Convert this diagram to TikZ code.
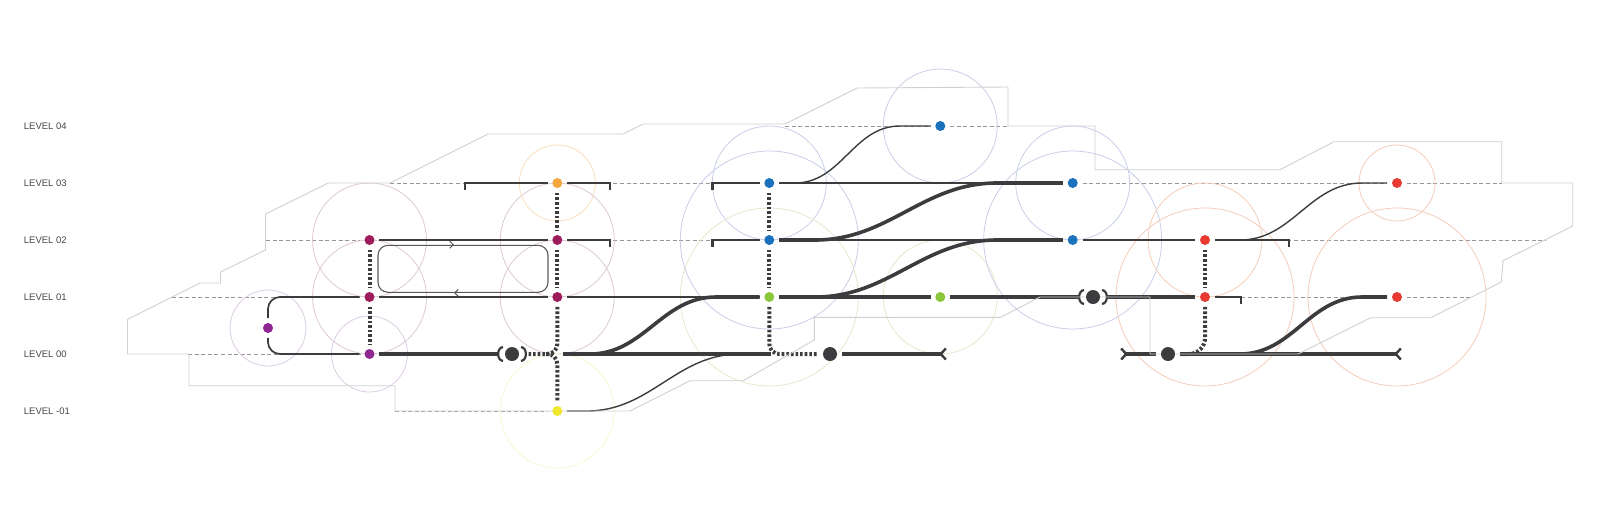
\documentclass[tikz,border=0pt]{standalone}
\usepackage{fontspec}
\setmainfont{Liberation Sans}
\usetikzlibrary{arrows.meta, positioning, backgrounds}
\definecolor{lineink}{RGB}{60, 60, 62}
\definecolor{mapgrey}{RGB}{208, 208, 210}
\definecolor{dashgrey}{RGB}{150, 150, 152}
\definecolor{labelgrey}{RGB}{70, 70, 70}
\definecolor{stamagenta}{RGB}{158, 27, 92}
\definecolor{stapurple}{RGB}{142, 39, 143}
\definecolor{staorange}{RGB}{245, 166, 60}
\definecolor{stayellow}{RGB}{240, 230, 45}
\definecolor{stablue}{RGB}{26, 113, 188}
\definecolor{stagreen}{RGB}{140, 198, 63}
\definecolor{stared}{RGB}{232, 58, 48}
\definecolor{ringmagenta}{RGB}{222, 200, 210}
\definecolor{ringpurple}{RGB}{220, 203, 226}
\definecolor{ringorange}{RGB}{248, 222, 188}
\definecolor{ringyellow}{RGB}{248, 248, 210}
\definecolor{ringblue}{RGB}{200, 206, 232}
\definecolor{ringgreen}{RGB}{228, 232, 204}
\definecolor{ringred}{RGB}{244, 204, 184}
\tikzset{
  station/.style={circle, fill=#1, minimum size=5pt, inner sep=0pt, outer sep=2.4pt},
  terminal/.style={circle, fill=lineink, minimum size=7pt, inner sep=0pt, outer sep=#1},
  levellabel/.style={anchor=west, text=labelgrey, font=\fontsize{4.75}{6}\selectfont, inner sep=0pt},
  ring/.style={draw=#1, line width=0.4pt},
  levelline/.style={draw=dashgrey, line width=0.35pt, dash pattern=on 2pt off 1.3pt},
  medline/.style={draw=lineink, line width=0.85pt},
  thickline/.style={draw=lineink, line width=1.8pt},
  thinline/.style={draw=lineink, line width=0.7pt},
  tickline/.style={draw=lineink, line width=1.4pt},
  dotline/.style={draw=lineink, line width=2pt, dash pattern=on 1.3pt off 1pt},
  scurve/.style={out=0, in=180},
  paren/.style={-{Arc Barb[reversed, length=3pt, width=8pt, line width=1.1pt]}},
  fork/.style={-{Straight Barb[reversed, length=2.5pt, width=5.5pt, line width=1.2pt]}}
}
\begin{document}
\begin{tikzpicture}[x=0.5pt, y=-0.5pt, >=Stealth]
  \useasboundingbox (0,0) rectangle (1600,509);
  \node[levellabel] (lab04) at (23.5,126) {LEVEL 04};
  \node[levellabel] (lab03) at (23.5,183) {LEVEL 03};
  \node[levellabel] (lab02) at (23.5,240) {LEVEL 02};
  \node[levellabel] (lab01) at (23.5,297) {LEVEL 01};
  \node[levellabel] (lab00) at (23.5,354) {LEVEL 00};
  \node[levellabel] (labm1) at (23.5,411) {LEVEL -01};

  \node[station=stapurple] (hub) at (268,328) {};
  \node[station=stapurple] (pu00) at (369.5,354) {};
  \node[station=stamagenta] (ma01) at (369.5,297) {};
  \node[station=stamagenta] (ma02) at (369.5,240) {};
  \node[station=stamagenta] (mb01) at (557.3,297) {};
  \node[station=stamagenta] (mb02) at (557.3,240) {};
  \node[station=staorange] (or03) at (557.3,183) {};
  \node[station=stayellow] (ye00) at (557.3,411) {};
  \node[station=stablue] (ba03) at (769.3,183) {};
  \node[station=stablue] (ba02) at (769.3,240) {};
  \node[station=stagreen] (ga01) at (769.3,297) {};
  \node[station=stablue] (bb04) at (940.3,126) {};
  \node[station=stagreen] (gb01) at (940.3,297) {};
  \node[station=stablue] (bc03) at (1072.7,183) {};
  \node[station=stablue] (bc02) at (1072.7,240) {};
  \node[station=stared] (ra02) at (1205,240) {};
  \node[station=stared] (ra01) at (1205,297) {};
  \node[station=stared] (rb03) at (1397,183) {};
  \node[station=stared] (rb01) at (1397,297) {};
  \node[terminal=1pt] (ta) at (512,354) {};
  \node[terminal=2.5pt] (tb) at (830,354) {};
  \node[terminal=1pt] (tc) at (1093,297) {};
  \node[terminal=2.5pt] (td) at (1168,354) {};
  \node[draw=lineink!85, line width=0.55pt, rounded corners=5pt, minimum width=85pt, minimum height=23.5pt, inner sep=0pt] (loopbox) at (463,268.8) {};

  \coordinate (dl04a) at (785,126);
  \coordinate (dl04b) at (1008,126);
  \coordinate (dl03a) at (390,183);
  \coordinate (dl03b) at (1502,183);
  \coordinate (dl02a) at (266,240);
  \coordinate (dl02b) at (1545,240);
  \coordinate (dl01a) at (172,297);
  \coordinate (dl01b) at (1470,297);
  \coordinate (dl00a) at (188,354);
  \coordinate (dlm1a) at (395,411);
  \coordinate (tk03a) at (465,190);
  \coordinate (tk03b) at (610,190);
  \coordinate (tk03c) at (712.7,190);
  \coordinate (tk02a) at (610,247);
  \coordinate (tk02b) at (712.7,247);
  \coordinate (tk02c) at (1289,247);
  \coordinate (tk01a) at (1241,304);
  \coordinate (fk00a) at (947,354);
  \coordinate (fk00b) at (1120,354);
  \coordinate (fk00c) at (1402,354);
  \coordinate (jn00a) at (563,354);
  \coordinate (jn00b) at (771,354);
  \coordinate (jn00c) at (546,354);
  \coordinate (sa0) at (590,354);
  \coordinate (sa1) at (716,297);
  \coordinate (sb0) at (587,411);
  \coordinate (sb1) at (740,354);
  \coordinate (sc0) at (795,183);
  \coordinate (sc1) at (900,126);
  \coordinate (sd0) at (815,240);
  \coordinate (sd1) at (997,183);
  \coordinate (se0) at (815,297);
  \coordinate (se1) at (997,240);
  \coordinate (sf0) at (1240,240);
  \coordinate (sf1) at (1362,183);
  \coordinate (sg0) at (1240,354);
  \coordinate (sg1) at (1362,297);

  \begin{scope}[on background layer]
  \draw[levelline] (dl04a) -- (bb04);
  \draw[levelline] (bb04) -- (dl04b);
  \draw[levelline] (dl03a) -- (or03);
  \draw[levelline] (or03) -- (ba03);
  \draw[levelline] (bc03) -- (rb03);
  \draw[levelline] (rb03) -- (dl03b);
  \draw[levelline] (dl02a) -- (ma02);
  \draw[levelline] (mb02) -- (ba02);
  \draw[levelline] (ra02) -- (dl02b);
  \draw[levelline] (dl01a) -- (ma01);
  \draw[levelline] (ra01) -- (rb01);
  \draw[levelline] (rb01) -- (dl01b);
  \draw[levelline] (dl00a) -- (pu00);
  \draw[levelline] (dlm1a) -- (ye00);

  \draw[ring=ringpurple] (hub) circle (38);
  \draw[ring=ringpurple] (pu00) circle (38);
  \draw[ring=ringmagenta] (ma01) circle (57);
  \draw[ring=ringmagenta] (ma02) circle (57);
  \draw[ring=ringmagenta] (mb01) circle (57);
  \draw[ring=ringmagenta] (mb02) circle (57);
  \draw[ring=ringorange] (or03) circle (38);
  \draw[ring=ringyellow] (ye00) circle (57);
  \draw[ring=ringblue] (ba03) circle (57);
  \draw[ring=ringblue] (ba02) circle (89);
  \draw[ring=ringgreen] (ga01) circle (89);
  \draw[ring=ringblue] (bb04) circle (57);
  \draw[ring=ringgreen] (gb01) circle (57);
  \draw[ring=ringblue] (bc03) circle (57);
  \draw[ring=ringblue] (bc02) circle (89);
  \draw[ring=ringred] (ra02) circle (57);
  \draw[ring=ringred] (ra01) circle (89);
  \draw[ring=ringred] (rb03) circle (38);
  \draw[ring=ringred] (rb01) circle (89);

  \draw[medline, rounded corners=6pt] (hub) |- (ma01);
  \draw[medline, rounded corners=6pt] (hub) |- (pu00);
  \draw[thickline, paren] (pu00) -- (ta);
  \draw[medline] (ma01) -- (mb01);
  \draw[medline] (mb01) -- (ga01);
  \draw[medline] (ma02) -- (mb02);
  \draw[tickline] (mb02) -| (tk02a);
  \draw[tickline] (or03) -| (tk03a);
  \draw[tickline] (or03) -| (tk03b);
  \draw[tickline] (ba03) -| (tk03c);
  \draw[tickline] (ba02) -| (tk02b);
  \draw[medline] (ba03) -- (bc03);
  \draw[medline] (ba02) -- (bc02);
  \draw[medline] (bc02) -- (ra02);
  \draw[tickline] (ra02) -| (tk02c);
  \draw[thickline] (jn00a) -- (jn00b);
  \draw[thickline, fork] (tb) -- (fk00a);
  \draw[thickline] (sa0) to[scurve] (sa1) -- (ga01);
  \draw[thinline] (ye00) -- (sb0) to[scurve] (sb1);
  \draw[thinline] (sc0) to[scurve] (sc1) -- (bb04);
  \draw[thickline] (ba02) -- (sd0) to[scurve] (sd1) -- (bc03);
  \draw[thickline] (ga01) -- (gb01);
  \draw[thickline] (ga01) -- (se0) to[scurve] (se1) -- (bc02);
  \draw[thickline, paren] (gb01) -- (tc);
  \draw[thickline, paren] (ra01) -- (tc);
  \draw[tickline] (ra01) -| (tk01a);
  \draw[thinline] (sf0) to[scurve] (sf1) -- (rb03);
  \draw[thickline, fork] (td) -- (fk00b);
  \draw[thickline, fork] (td) -- (fk00c);
  \draw[thickline] (sg0) to[scurve] (sg1) -- (rb01);

  \draw[dotline] (ma02) -- (ma01);
  \draw[dotline] (ma01) -- (pu00);
  \draw[dotline] (or03) -- (mb02);
  \draw[dotline] (mb02) -- (mb01);
  \draw[dotline, rounded corners=5pt, paren] (mb01) |- (ta);
  \draw[dotline, rounded corners=5pt] (jn00c) -| (ye00);
  \draw[dotline] (ba03) -- (ba02);
  \draw[dotline] (ba02) -- (ga01);
  \draw[dotline, rounded corners=5pt] (ga01) |- (tb);
  \draw[dotline] (ra02) -- (ra01);
  \draw[dotline, rounded corners=8pt] (ra01) |- (td);

  \draw[draw=lineink!85, line width=0.5pt, -{Straight Barb[length=1.8pt, width=3.5pt]}] (loopbox.north) ++(-11,0) -- ++(2,0);
  \draw[draw=lineink!85, line width=0.5pt, -{Straight Barb[length=1.8pt, width=3.5pt]}] (loopbox.south) ++(-7,0) -- ++(-2,0);

  \draw[draw=mapgrey, line width=0.45pt] (127.5,319.5) -- (200,283) -- (220.5,283) -- (220.5,272) -- (265.5,250) -- (265.5,214) -- (328.5,183) -- (390,183) -- (488,134) -- (623,134) -- (643,124) -- (785,124) -- (857,88) -- (1008,87) -- (1008,126) -- (1095,126) -- (1095,169.7) -- (1280,169.7) -- (1334,141.7) -- (1501.7,141.7) -- (1501.7,183) -- (1572.7,183) -- (1572.7,226) -- (1503,260.7) -- (1501.3,282) -- (1430.7,317.7) -- (1370.7,317.7) -- (1298,354) -- (1150,354) -- (1150,297) -- (1040,297) -- (1000.7,317.3) -- (814.3,317.3) -- (814.3,340) -- (743.3,380.7) -- (690,380.7) -- (630,411) -- (395,411) -- (395,385.7) -- (189,385.7) -- (189,354) -- (127.5,354) -- cycle;
  \end{scope}
\end{tikzpicture}
\end{document}
